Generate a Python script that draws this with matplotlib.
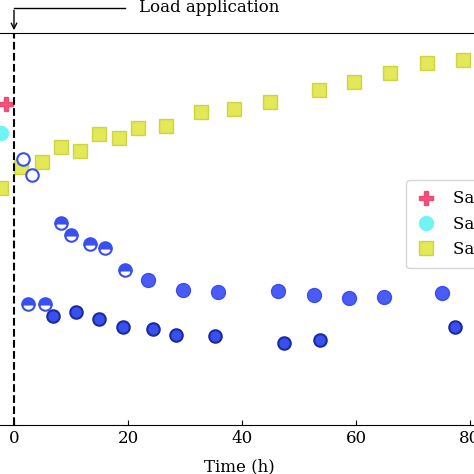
import matplotlib
matplotlib.use("Agg")
import matplotlib.pyplot as plt
import numpy as np

plt.rcParams['font.family'] = ['DejaVu Serif']
plt.rcParams['mathtext.fontset'] = 'cm'

# pixel-read data converted: x = time (h), y = arbitrary units (0-100)
def px(xs): return [(v - 14) / 5.7 for v in xs]
def py(ys): return [(425 - v) / 3.92 for v in ys]

red_x = px([6]); red_y = py([104])
cyan_x = px([1]); cyan_y = py([133])
yel_x = px([1, 21, 42, 61, 80, 99, 119, 138, 166, 201, 234, 270, 319, 354, 390, 427, 463])
yel_y = py([188, 167, 162, 147, 151, 134, 138, 128, 126, 112, 109, 102, 90, 82, 73, 63, 60])
open_x = px([23, 32]); open_y = py([159, 175])
half_up_x = px([61, 71, 90, 105, 125]); half_up_y = py([223, 235, 244, 248, 270])
half_lo_x = px([28, 45]); half_lo_y = py([304, 304])
fill_up_x = px([148, 183, 218, 278, 314, 349, 384, 442]); fill_up_y = py([280, 290, 292, 291, 295, 298, 297, 293])
fill_lo_x = px([53, 76, 99, 123, 153, 176, 215, 284, 320, 455]); fill_lo_y = py([316, 312, 319, 327, 329, 335, 336, 343, 340, 327])

fig = plt.figure(figsize=(4.74, 4.74), dpi=100)
left_px, right_px = 14 - 5 * 5.7, 14 + 85 * 5.7
ax = fig.add_axes([left_px / 474, (474 - 425) / 474, (right_px - left_px) / 474, (425 - 33) / 474])
ax.set_xlim(-5, 85); ax.set_ylim(0, 100)

blue = '#3a4ff0'
ax.plot(red_x, red_y, 'P', color='#f0406a', ms=10, alpha=0.9, label='Sample 1')
ax.plot(cyan_x, cyan_y, 'o', color='#6ff4f4', ms=10, label='Sample 2')
ax.plot(yel_x, yel_y, 's', color='#dde53a', mec='#c6d030', ms=10, alpha=0.85, label='Sample 3')
ax.plot(open_x, open_y, 'o', mfc='white', mec=blue, mew=1.5, ms=9, ls='none')
ax.plot(half_up_x + half_lo_x, half_up_y + half_lo_y, 'o', fillstyle='top', color=blue,
        markerfacecoloralt='white', mec=blue, mew=1.5, ms=9, ls='none')
ax.plot(fill_up_x, fill_up_y, 'o', color='#4a5cf5', mec='#3a4ff0', ms=10, ls='none')
ax.plot(fill_lo_x, fill_lo_y, 'o', color='#3a4ff0', mec='#1a2aa0', mew=1.5, ms=9, ls='none')

ax.axvline(0, color='black', ls='--', lw=1.5)
ax.set_yticks([])
ax.set_xticks([0, 20, 40, 60, 80])
ax.tick_params(axis='x', direction='in', labelsize=12)
ax.set_xlabel('Time (h)', fontsize=12)
ax.xaxis.set_label_coords((239 - left_px) / (right_px - left_px), -0.085)

ax.annotate('', xy=(0, 100), xytext=(0, 106.5), annotation_clip=False,
            arrowprops=dict(arrowstyle='->', color='black', lw=1))
ax.plot([0, 19.5], [106.5, 106.5], color='black', lw=1, clip_on=False)
ax.text(22, 106.5, 'Load application', fontsize=12, va='center', ha='left', clip_on=False)

ax.legend(loc='upper left', bbox_to_anchor=((398 - left_px) / (right_px - left_px), 0.645),
          fontsize=12, frameon=True, handlelength=1.2, handletextpad=1.0, borderpad=0.6)

fig.savefig('out.png', dpi=100)
